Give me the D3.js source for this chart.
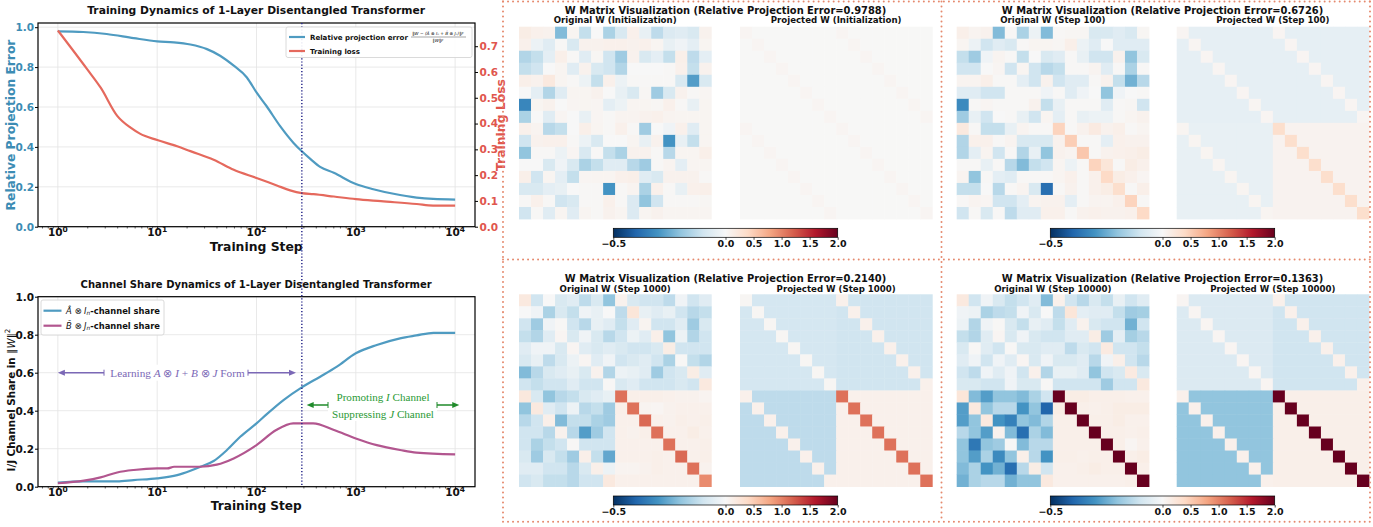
<!DOCTYPE html>
<html><head><meta charset="utf-8">
<script src="https://cdn.jsdelivr.net/npm/d3@7"></script>
<style>body{margin:0;background:#fff} svg{display:block}</style>
</head><body><svg id="c" width="1373" height="527" font-family="DejaVu Sans"></svg>
<script>
// ================= DATA =================
const relErrSteps = [1, 1.8, 3.1, 5.8, 10, 14.7, 21.6, 31.7, 43, 59, 80, 100, 126, 173, 236, 286, 348, 437, 600, 1000, 1500, 2400, 4100, 6000, 10000];
const relErr      = [0.979, 0.976, 0.966, 0.945, 0.929, 0.924, 0.913, 0.89, 0.857, 0.807, 0.748, 0.673, 0.605, 0.504, 0.42, 0.378, 0.34, 0.30, 0.27, 0.214, 0.188, 0.165, 0.146, 0.139, 0.136];
const lossSteps   = [1, 1.97, 2.7, 3.96, 5.4, 6.7, 10, 15.9, 21.6, 37, 59, 100, 160, 218, 286, 375, 600, 1000, 1790, 4100, 6000, 10000];
const lossVals    = [0.761, 0.611, 0.539, 0.43, 0.384, 0.361, 0.336, 0.312, 0.293, 0.26, 0.221, 0.189, 0.16, 0.141, 0.13, 0.126, 0.117, 0.107, 0.099, 0.088, 0.082, 0.082];
const shareASteps = [1, 1.83, 2.69, 3.96, 5.8, 10, 15.9, 21.6, 27.2, 37, 50.4, 68.6, 100, 127, 187, 286, 438, 645, 1000, 1625, 2790, 4070, 6050, 10000];
const shareA      = [0.021, 0.028, 0.028, 0.028, 0.035, 0.044, 0.061, 0.084, 0.105, 0.135, 0.193, 0.263, 0.333, 0.382, 0.456, 0.523, 0.579, 0.632, 0.702, 0.746, 0.781, 0.796, 0.81, 0.81];
const shareBSteps = [1, 1.83, 2.69, 3.96, 5.8, 10, 12.6, 14.8, 27.2, 39.8, 58.9, 100, 158, 234, 372, 603, 1000, 1625, 2790, 4070, 10000];
const shareB      = [0.018, 0.032, 0.049, 0.075, 0.088, 0.096, 0.096, 0.105, 0.105, 0.116, 0.149, 0.219, 0.298, 0.333, 0.333, 0.298, 0.254, 0.219, 0.193, 0.179, 0.17];
const markerStep = 286;
const xTickVals = [1, 10, 100, 1000, 10000];
const yLeftTicks = [0, 0.2, 0.4, 0.6, 0.8, 1.0];
const yRightTicks = [0, 0.1, 0.2, 0.3, 0.4, 0.5, 0.6, 0.7];
const shareTicks = [0, 0.2, 0.4, 0.6, 0.8, 1.0];
const annLearn = {from: 1, to: 250, y: 0.6};
const annPromote = {from: 320, to: 11000, y: 0.43};

const panelErrors = ["0.9788", "0.6726", "0.2140", "0.1363"];
const panelStages = ["Initialization", "Step 100", "Step 1000", "Step 10000"];
const cbTicks = [-0.5, 0, 0.5, 1.0, 1.5, 2.0];

const W_init = [
 [0.15,0.1,0.08,-0.22,0.05,-0.12,0,-0.16,-0.08,0.1,-0.04,-0.13,-0.07,-0.06,-0.08,0.08],
 [0.1,-0.03,-0.06,0.02,-0.08,0.08,0.08,0.1,0.1,0.08,0.1,0.05,-0.04,-0.02,-0.05,0.05],
 [-0.15,-0.12,-0.05,0.12,0.02,-0.06,0.03,-0.1,-0.18,0.08,-0.08,-0.05,-0.12,0.12,-0.13,-0.05],
 [-0.12,-0.1,0,0.05,-0.06,0.08,-0.08,-0.1,-0.15,0,0,0,0.02,0.1,-0.12,0.08],
 [0.12,0.08,0.2,0.05,0.02,-0.03,-0.12,0.1,-0.03,0.02,0.02,0.02,0.02,-0.08,-0.28,-0.08],
 [0,-0.05,-0.15,-0.06,0.05,0.05,0.08,0,-0.04,-0.08,0.03,-0.18,-0.08,0.08,0.02,0.04],
 [-0.33,0.05,0.08,0,0.04,0.05,0.04,-0.05,-0.03,0.05,0.05,0.03,0.1,0.02,-0.04,0.05],
 [-0.16,0,-0.06,0.04,0,-0.04,0.04,0.02,0.06,0.06,0.08,0.1,0.06,0.05,0.05,0.05],
 [0.1,0.06,-0.14,-0.12,0,0.12,0.05,0.02,0.1,0.02,-0.18,0,-0.02,0.1,-0.06,0.05],
 [-0.1,0.08,0.1,0.1,0.02,-0.03,-0.08,0,0,0.05,-0.04,0.08,-0.3,-0.04,-0.12,0.05],
 [-0.2,0.02,0.02,-0.03,0.04,-0.08,0.02,-0.12,-0.16,0.08,0.08,0.02,-0.14,0.05,0.05,0.12],
 [0,0,-0.08,-0.02,-0.08,-0.16,-0.12,-0.06,-0.06,-0.14,-0.18,0.02,0.06,-0.05,0.05,0.05],
 [0.12,-0.1,0.05,-0.05,-0.12,0.04,0.05,0.05,0.1,0.12,-0.06,-0.08,0.08,0.08,0.08,0.02],
 [-0.08,-0.08,-0.05,-0.04,0,0.02,0.02,-0.3,0.02,0.06,-0.16,0.1,0.02,-0.04,0.1,0.12],
 [0.02,0.1,0.02,-0.1,-0.08,0.02,0.02,0.1,0.02,-0.07,-0.2,-0.1,0.02,0.02,0.02,0.03],
 [-0.1,0.02,-0.06,0.05,-0.06,0.05,0.02,0.08,0.05,-0.07,0.05,0.08,0.05,0.05,0.05,0.05]
];
const W_100 = [
 [0.12,0.06,0.08,-0.22,0.02,-0.16,-0.03,-0.22,0.02,0.03,0.03,-0.08,-0.08,-0.06,-0.08,0.03],
 [0.05,-0.03,-0.1,-0.06,-0.08,0.02,0.05,0.05,0.03,0.12,-0.03,-0.06,0,-0.06,-0.06,-0.06],
 [-0.12,-0.18,-0.02,0.06,0.02,-0.12,0,-0.08,-0.06,0.02,-0.04,-0.1,-0.1,0.08,-0.2,-0.08],
 [-0.1,-0.1,0,0.04,-0.1,0.05,-0.1,-0.14,-0.12,0.02,0.02,0.06,-0.06,0.02,-0.16,0.02],
 [0.06,0.06,0.12,0.02,0.02,-0.05,-0.1,0.08,-0.1,-0.06,-0.06,0.02,0.08,-0.12,-0.24,-0.14],
 [-0.06,-0.06,-0.1,-0.1,0.02,0.02,0.02,-0.02,0.02,-0.06,-0.02,0,-0.2,-0.02,0,0.02],
 [-0.32,0.02,0.04,0.02,0.02,0.02,0.08,-0.12,-0.04,0.02,0.02,0.02,-0.06,0.02,0.03,-0.1],
 [-0.18,-0.04,-0.1,0,0.02,-0.04,-0.1,0.05,-0.05,0.02,-0.04,-0.03,-0.03,0.02,0.05,0.08],
 [0.2,0.02,-0.12,-0.12,-0.04,0.06,0.02,0.02,0.45,0.02,0.08,0.18,0.08,0.12,0.02,0.05],
 [-0.15,0.1,0.1,0.02,0.06,-0.08,-0.08,-0.08,0.08,0.5,0.02,0.02,-0.05,0.1,0.08,0.08],
 [-0.15,-0.05,0.06,-0.1,0.02,-0.15,-0.04,-0.2,0.08,0.06,0.55,0.02,0.08,0.1,0.12,0.15],
 [0.02,0.02,-0.04,0.02,-0.14,-0.22,-0.12,-0.1,0.05,-0.03,0.02,0.45,0.25,0.02,0.15,0.1],
 [0.06,-0.2,0.02,-0.05,-0.06,0.02,0.02,0.02,0.05,0.1,0.02,0.1,0.4,0.15,0.1,0.04],
 [-0.12,-0.12,0,-0.14,0.02,0.06,-0.08,-0.38,0.02,0.08,0.02,0.1,0.15,0.35,0.02,0.12],
 [0.02,0.06,0.04,-0.1,-0.1,-0.05,0.06,0.08,0.08,-0.05,0.02,0.06,0.06,0.1,0.45,0.02],
 [-0.1,0.02,-0.08,0.02,-0.13,-0.06,-0.06,0.1,0.1,0.02,0.08,0.1,0.08,0.08,0.1,0.4]
];
const W_1000 = [
 [0.2,-0.1,0,-0.08,-0.06,-0.13,-0.08,-0.2,0.08,-0.08,-0.1,-0.1,-0.13,-0.02,-0.1,-0.06],
 [0,-0.02,-0.16,-0.08,-0.12,-0.02,-0.04,0,-0.13,0.25,-0.04,-0.06,-0.04,-0.1,-0.14,-0.12],
 [-0.1,-0.18,-0.02,0.02,-0.1,-0.14,-0.04,-0.06,-0.12,-0.06,0.06,-0.1,-0.1,-0.06,-0.18,-0.08],
 [-0.12,-0.15,-0.06,0.04,-0.08,-0.02,-0.08,-0.14,-0.1,-0.03,-0.06,0.12,-0.2,-0.03,-0.15,-0.1],
 [-0.06,-0.02,-0.02,-0.08,0.04,-0.06,-0.08,-0.06,-0.08,-0.1,-0.1,-0.08,0.15,-0.1,-0.1,-0.1],
 [-0.08,-0.04,-0.13,-0.08,-0.03,0.04,-0.06,-0.02,-0.1,-0.08,-0.06,-0.1,-0.16,0.02,-0.12,-0.15],
 [-0.22,-0.14,-0.08,-0.06,-0.04,-0.08,0.08,-0.15,-0.03,-0.04,-0.06,-0.18,-0.1,-0.08,0.15,-0.06],
 [-0.1,-0.12,-0.1,-0.1,-0.06,-0.1,-0.1,0.02,-0.08,-0.06,-0.1,-0.1,-0.1,-0.08,-0.1,0.2],
 [0.22,-0.08,-0.2,-0.14,-0.12,-0.08,-0.06,-0.04,1.1,0.12,0.12,0.12,0.1,0.08,0.08,0.06],
 [-0.2,0.2,-0.06,-0.1,-0.03,-0.14,-0.12,-0.18,0.12,1.1,0.06,0.04,0.08,0.1,0.1,0.1],
 [-0.14,-0.1,0.12,-0.22,-0.12,-0.12,-0.16,-0.18,0.1,0.1,1.15,0.1,0.08,0.12,0.1,0.12],
 [-0.1,-0.1,-0.14,0.08,-0.14,-0.28,-0.18,-0.1,0.1,0.08,0.12,1.1,0.1,0.1,0.15,0.1],
 [-0.1,-0.16,-0.12,-0.1,0.02,-0.1,-0.1,-0.1,0.1,0.1,0.1,0.1,1.1,0.1,0.1,0.12],
 [-0.08,-0.18,-0.08,-0.12,-0.18,0.12,-0.12,-0.26,0.1,0.1,0.1,0.12,0.1,1.15,0.1,0.12],
 [-0.06,-0.06,-0.1,-0.1,-0.14,-0.08,0.12,-0.03,0.06,0.06,0.08,0.12,0.1,0.1,1.1,0.08],
 [-0.1,-0.08,-0.12,-0.12,-0.14,-0.1,-0.1,0.2,0.1,0.1,0.1,0.1,0.1,0.1,0.1,0.95]
];
const W_10000 = [
 [0.2,-0.1,-0.02,-0.08,-0.12,-0.1,-0.06,-0.22,0.1,-0.1,-0.14,-0.08,-0.12,-0.04,-0.1,-0.06],
 [-0.02,-0.03,-0.16,-0.13,-0.12,-0.02,-0.08,0,-0.13,0.25,-0.05,-0.06,-0.06,-0.12,-0.18,-0.17],
 [-0.03,-0.15,-0.02,0.02,-0.08,-0.12,-0.04,-0.06,-0.12,-0.06,0.08,-0.08,-0.1,-0.1,-0.24,-0.1],
 [-0.12,-0.15,-0.06,0.04,-0.08,-0.02,-0.08,-0.1,-0.1,-0.06,-0.06,0.15,-0.18,-0.05,-0.17,-0.14],
 [-0.08,0.02,-0.06,-0.1,0.02,-0.08,-0.08,-0.06,-0.06,-0.13,-0.08,-0.1,0.18,-0.1,-0.1,-0.12],
 [-0.06,-0.02,-0.1,-0.02,-0.06,0.04,-0.08,-0.02,-0.08,-0.08,-0.06,-0.14,-0.02,0.12,-0.1,-0.14],
 [-0.1,-0.13,-0.02,-0.06,-0.02,-0.1,0.1,-0.15,-0.04,-0.04,-0.06,-0.2,-0.1,-0.08,0.18,-0.08],
 [-0.08,-0.08,-0.1,-0.1,-0.02,-0.08,-0.08,0.02,-0.1,-0.1,-0.1,-0.1,-0.18,-0.1,-0.1,0.2],
 [0.25,-0.22,-0.28,-0.2,-0.2,-0.22,-0.16,-0.1,2.2,0.15,0.15,0.12,0.12,0.12,0.1,0.1],
 [-0.28,0.2,-0.2,-0.14,-0.14,-0.3,-0.2,-0.4,0.15,2.2,0.12,0.1,0.12,0.15,0.15,0.15],
 [-0.28,-0.2,0.2,-0.3,-0.34,-0.2,-0.22,-0.15,0.12,0.12,2.2,0.12,0.12,0.15,0.1,0.1],
 [-0.14,-0.2,-0.28,0.08,-0.22,-0.38,-0.16,-0.22,0.12,0.12,0.12,2.2,0.12,0.12,0.1,0.12],
 [-0.2,-0.36,-0.2,-0.18,0.02,-0.22,-0.14,-0.14,0.12,0.12,0.12,0.12,2.2,0.12,0.04,0.1],
 [-0.2,-0.28,-0.16,-0.32,-0.2,0.12,-0.14,-0.3,0.12,0.12,0.1,0.12,0.12,2.2,0.12,0.15],
 [-0.22,-0.16,-0.3,-0.24,-0.38,-0.14,0.15,-0.1,0.1,0.1,0.12,0.15,0.12,0.12,2.2,0.12],
 [-0.24,-0.16,-0.14,-0.14,-0.24,-0.2,-0.2,0.2,0.1,0.1,0.1,0.1,0.1,0.1,0.12,2.2]
];
const originalW = [W_init, W_100, W_1000, W_10000];
// projected W = A (x) I_8 + B (x) J_8 : per 8x8 block, off-diagonal value and diagonal value
const projOff  = [ [[0.005,0.005],[0.005,0.005]], [[-0.045,-0.045],[-0.04,0.07]], [[-0.09,-0.1],[-0.13,0.1]], [[-0.07,-0.1],[-0.2,0.12]] ];
const projDiag = [ [[0.04,0.04],[0.04,0.04]],     [[0.04,0.04],[0.05,0.35]],      [[0.03,0.1],[0.1,1.1]],     [[0.04,0.1],[0.1,2.2]] ];

// ================= RENDER =================
const svg = d3.select("#c");
svg.append("rect").attr("width",1373).attr("height",527).attr("fill","#fff");
const BLUE = "#4f9bc1", RED = "#e5695d", MAG = "#b2568f";
const BLUE_T = "#3c8cb4", RED_T = "#e0564d";

function fit(sel, w){ const l = sel.node().getComputedTextLength(); const fs = parseFloat(sel.attr("font-size")); sel.attr("font-size", fs*w/l); return sel; }
function txt(g, x, y, s, size, opts={}){
  const t = g.append("text").attr("x",x).attr("y",y).attr("font-size",size).attr("text-anchor",opts.anchor||"middle")
    .attr("font-weight",opts.weight||"bold").attr("fill",opts.fill||"#111").text(s);
  if (opts.rotate) t.attr("transform",`rotate(${opts.rotate},${x},${y})`);
  if (opts.family) t.attr("font-family", opts.family);
  return t;
}

// ---------- line charts ----------
const X0 = 38, X1 = 475;
function makeX(){ return d3.scaleLog().domain([10**-0.2, 10**4.2]).range([X0, X1]); }

function frameAndGrid(g, x, y, top, bot, yTicks){
  g.append("g").selectAll("line").data(xTickVals).join("line")
    .attr("x1",d=>x(d)).attr("x2",d=>x(d)).attr("y1",top).attr("y2",bot).attr("stroke","#e3e3e3").attr("stroke-width",0.8);
  g.append("g").selectAll("line").data(yTicks).join("line")
    .attr("x1",X0).attr("x2",X1).attr("y1",d=>y(d)).attr("y2",d=>y(d)).attr("stroke","#e3e3e3").attr("stroke-width",0.8);
}
function xAxis(g, x, bot, labelBase){
  const ax = g.append("g").attr("transform",`translate(0,${bot})`)
    .call(d3.axisBottom(x).tickValues(xTickVals).tickSize(3).tickFormat(""));
  ax.select(".domain").remove();
  ax.selectAll(".tick line").attr("stroke","#000").attr("stroke-width",0.9);
  const minors = [];
  for (let e=0;e<5;e++) for (let m=2;m<10;m++){ const v=m*10**e; if (v<10**4.2) minors.push(v);}
  minors.push(0.7,0.8,0.9);
  g.append("g").selectAll("line").data(minors).join("line")
    .attr("x1",d=>x(d)).attr("x2",d=>x(d)).attr("y1",bot).attr("y2",bot+1.8).attr("stroke","#000").attr("stroke-width",0.6);
  const lab = g.append("g").selectAll("text").data(xTickVals).join("text")
    .attr("x",d=>x(d)).attr("y",labelBase).attr("text-anchor","middle").attr("font-weight","bold").attr("font-size",10.5).attr("fill","#111");
  lab.each(function(d){ const t=d3.select(this); t.append("tspan").text("10"); t.append("tspan").attr("dy",-4.5).attr("font-size",7.5).text(Math.round(Math.log10(d))); });
}

// ===== Top chart =====
const gT = svg.append("g");
const xT = makeX();
const TT = 23, TB = 226.7;
const yL = d3.scaleLinear().domain([0,1.021]).range([TB,TT]);
const yR = d3.scaleLinear().domain([0,0.79]).range([TB,TT]);
frameAndGrid(gT, xT, yL, TT, TB, yLeftTicks);
const lineRel = d3.line().x((d,i)=>xT(relErrSteps[i])).y(d=>yL(d)).curve(d3.curveMonotoneX);
const lineLoss = d3.line().x((d,i)=>xT(lossSteps[i])).y(d=>yR(d)).curve(d3.curveMonotoneX);
gT.append("path").attr("d",lineRel(relErr)).attr("fill","none").attr("stroke",BLUE).attr("stroke-width",2.2);
gT.append("path").attr("d",lineLoss(lossVals)).attr("fill","none").attr("stroke",RED).attr("stroke-width",2.2);
gT.append("rect").attr("x",X0).attr("y",TT).attr("width",X1-X0).attr("height",TB-TT).attr("fill","none").attr("stroke","#000").attr("stroke-width",1.2);
xAxis(gT, xT, TB, 236);
{
  const ax = gT.append("g").attr("transform",`translate(${X0},0)`).call(d3.axisLeft(yL).tickValues(yLeftTicks).tickSize(3).tickFormat(d3.format(".1f")));
  ax.select(".domain").remove();
  ax.selectAll(".tick line").attr("stroke","#000");
  ax.selectAll(".tick text").attr("font-size",10.5).attr("font-weight","bold").attr("fill",BLUE_T).attr("font-family","DejaVu Sans").attr("x",-4);
  const ar = gT.append("g").attr("transform",`translate(${X1},0)`).call(d3.axisRight(yR).tickValues(yRightTicks).tickSize(3).tickFormat(d3.format(".1f")));
  ar.select(".domain").remove();
  ar.selectAll(".tick line").attr("stroke","#000");
  ar.selectAll(".tick text").attr("font-size",10.5).attr("font-weight","bold").attr("fill",RED_T).attr("font-family","DejaVu Sans").attr("x",4.5);
}
fit(txt(gT, 256.2, 14.3, "Training Dynamics of 1-Layer Disentangled Transformer", 11), 338);
fit(txt(gT, 256.3, 250.5, "Training Step", 13.5), 93);
fit(txt(gT, 14.5, 125, "Relative Projection Error", 12.5, {rotate:-90, fill:BLUE_T}), 171);
fit(txt(gT, 505, 125, "Training Loss", 12.5, {rotate:-90, fill:RED_T}), 92);

// ===== Bottom chart =====
const gB = svg.append("g");
const xB = makeX();
const BT = 296.7, BB = 486.7;
const yB = d3.scaleLinear().domain([0,1]).range([BB,BT]);
frameAndGrid(gB, xB, yB, BT, BB, shareTicks);
const lineA = d3.line().x((d,i)=>xB(shareASteps[i])).y(d=>yB(d)).curve(d3.curveMonotoneX);
const lineB = d3.line().x((d,i)=>xB(shareBSteps[i])).y(d=>yB(d)).curve(d3.curveMonotoneX);
gB.append("path").attr("d",lineA(shareA)).attr("fill","none").attr("stroke",BLUE).attr("stroke-width",2.2);
gB.append("path").attr("d",lineB(shareB)).attr("fill","none").attr("stroke",MAG).attr("stroke-width",2.2);
gB.append("rect").attr("x",X0).attr("y",BT).attr("width",X1-X0).attr("height",BB-BT).attr("fill","none").attr("stroke","#000").attr("stroke-width",1.2);
xAxis(gB, xB, BB, 496);
{
  const ax = gB.append("g").attr("transform",`translate(${X0},0)`).call(d3.axisLeft(yB).tickValues(shareTicks).tickSize(3).tickFormat(d3.format(".1f")));
  ax.select(".domain").remove();
  ax.selectAll(".tick line").attr("stroke","#000");
  ax.selectAll(".tick text").attr("font-size",10.5).attr("font-weight","bold").attr("fill","#111").attr("font-family","DejaVu Sans").attr("x",-4);
}
fit(txt(gB, 256.2, 288.3, "Channel Share Dynamics of 1-Layer Disentangled Transformer", 11), 352);
fit(txt(gB, 256.3, 509.5, "Training Step", 13.5), 91);
{
  const t = txt(gB, 14.5, 400, "", 12.5, {rotate:-90});
  t.append("tspan").text("I/J Channel Share in ");
  t.append("tspan").attr("font-weight","normal").attr("font-style","italic").text("‖W‖");
  t.append("tspan").attr("font-weight","normal").attr("dy",-5).attr("font-size","70%").text("2");
  fit(t, 143);
}

// annotations
function dblArrow(g, x1, x2, y, col){
  g.append("line").attr("x1",x1+5).attr("x2",x2-5).attr("y1",y).attr("y2",y).attr("stroke",col).attr("stroke-width",1.5);
  g.append("path").attr("d",`M${x1},${y}L${x1+7},${y-3}L${x1+7},${y+3}Z`).attr("fill",col);
  g.append("path").attr("d",`M${x2},${y}L${x2-7},${y-3}L${x2-7},${y+3}Z`).attr("fill",col);
}
const PUR = "#7b68b6", GRN = "#1f8a2a";
{
  const y = yB(annLearn.y);
  dblArrow(gB, xB(annLearn.from), xB(annLearn.to), y, PUR);
  gB.append("rect").attr("x",104).attr("y",y-8).attr("width",144).attr("height",16).attr("fill","#fff");
  gB.append("line").attr("x1",104).attr("x2",104).attr("y1",y-3).attr("y2",y+3).attr("stroke",PUR).attr("stroke-width",1);
  gB.append("line").attr("x1",248).attr("x2",248).attr("y1",y-3).attr("y2",y+3).attr("stroke",PUR).attr("stroke-width",1);
  const t = txt(gB, 177.5, y+3.8, "", 11, {family:"Liberation Serif", weight:"normal", fill:PUR});
  t.append("tspan").text("Learning ");
  t.append("tspan").attr("font-style","italic").text("A");
  t.append("tspan").text(" ⊗ ");
  t.append("tspan").attr("font-style","italic").text("I");
  t.append("tspan").text(" + ");
  t.append("tspan").attr("font-style","italic").text("B");
  t.append("tspan").text(" ⊗ ");
  t.append("tspan").attr("font-style","italic").text("J");
  t.append("tspan").text(" Form");
  fit(t, 135);
}
{
  const y = yB(annPromote.y);
  dblArrow(gB, xB(annPromote.from), xB(annPromote.to), y, GRN);
  gB.append("rect").attr("x",328).attr("y",y-14).attr("width",109).attr("height",30).attr("fill","#fff");
  gB.append("line").attr("x1",328).attr("x2",328).attr("y1",y-3).attr("y2",y+3).attr("stroke",GRN).attr("stroke-width",1);
  gB.append("line").attr("x1",437).attr("x2",437).attr("y1",y-3).attr("y2",y+3).attr("stroke",GRN).attr("stroke-width",1);
  const t1 = txt(gB, 383, y-4, "", 11, {family:"Liberation Serif", weight:"normal", fill:"#2a9a35"});
  t1.append("tspan").text("Promoting "); t1.append("tspan").attr("font-style","italic").text("I"); t1.append("tspan").text(" Channel");
  fit(t1, 93);
  const t2 = txt(gB, 383, y+12.5, "", 11, {family:"Liberation Serif", weight:"normal", fill:"#2a9a35"});
  t2.append("tspan").text("Suppressing "); t2.append("tspan").attr("font-style","italic").text("J"); t2.append("tspan").text(" Channel");
  fit(t2, 102);
}

// vertical marker line across both charts
svg.append("line").attr("x1",xT(markerStep)).attr("x2",xT(markerStep)).attr("y1",TT).attr("y2",BB)
  .attr("stroke","#2b2b8c").attr("stroke-width",1.5).attr("stroke-dasharray","1.2,2");

// legends
{
  const g = svg.append("g");
  g.append("rect").attr("x",286).attr("y",27).attr("width",186).attr("height",30.5).attr("rx",2).attr("fill","#fff").attr("fill-opacity",0.9).attr("stroke","#d0d0d0").attr("stroke-width",0.8);
  g.append("line").attr("x1",289).attr("x2",305).attr("y1",37).attr("y2",37).attr("stroke",BLUE).attr("stroke-width",2.2);
  g.append("line").attr("x1",289).attr("x2",305).attr("y1",51).attr("y2",51).attr("stroke",RED).attr("stroke-width",2.2);
  fit(txt(g, 310, 39.7, "Relative projection error", 7, {anchor:"start"}), 98);
  fit(txt(g, 310, 53.7, "Training loss", 7, {anchor:"start"}), 50);
  const fx = 438;
  txt(g, fx, 35, "‖W − (Â ⊗ Iₙ + B̂ ⊗ Jₙ)‖F", 4.3, {weight:"normal"}).attr("font-style","italic");
  g.append("line").attr("x1",411).attr("x2",466).attr("y1",37).attr("y2",37).attr("stroke","#222").attr("stroke-width",0.4);
  txt(g, fx, 41.8, "‖W‖F", 4.3, {weight:"normal"}).attr("font-style","italic");
}
{
  const g = svg.append("g");
  g.append("rect").attr("x",41).attr("y",300).attr("width",123).attr("height",35).attr("rx",2).attr("fill","#fff").attr("fill-opacity",0.9).attr("stroke","#d0d0d0").attr("stroke-width",0.8);
  g.append("line").attr("x1",43.5).attr("x2",61.5).attr("y1",310.7).attr("y2",310.7).attr("stroke",BLUE).attr("stroke-width",2.2);
  g.append("line").attr("x1",43.5).attr("x2",61.5).attr("y1",325.7).attr("y2",325.7).attr("stroke",MAG).attr("stroke-width",2.2);
  const mk = (y, L, S) => {
    const t = txt(g, 66, y, "", 7.6, {anchor:"start"});
    t.append("tspan").attr("font-weight","normal").attr("font-style","italic").text(L + " ⊗ " + S);
    t.append("tspan").attr("font-weight","normal").attr("font-style","italic").attr("font-size","70%").attr("dy",1.5).text("n");
    t.append("tspan").attr("dy",-1.5).text("-channel share");
    fit(t, 94);
  };
  mk(313.5, "Â", "I");
  mk(328.5, "B̂", "J");
}

// ---------- heatmap panels ----------
// matplotlib-style RdBu_r: linear piecewise through the 11 ColorBrewer colours
const rdbuR = d3.piecewise(d3.interpolateRgb, d3.schemeRdBu[11].slice().reverse());
const tsn = v => v < 0 ? Math.max(0, (v + 0.5)) : Math.min(1, 0.5 + v / 4);
const colorOf = v => rdbuR(tsn(v));
const panels = [
  {ox:519,   px:740,    my:26.7,  cx:613.3,  cy:228.3, ty:14.3,  sy:23.3,  tc:725.5},
  {ox:956.7, px:1176.7, my:26.7,  cx:1050.3, cy:228.3, ty:14.3,  sy:23.3,  tc:1162.5},
  {ox:519,   px:740,    my:294.3, cx:613.3,  cy:496,   ty:282.3, sy:292.3, tc:725.5},
  {ox:956.7, px:1176.7, my:294.3, cx:1050.3, cy:496,   ty:282.3, sy:292.3, tc:1162.5}
];
const MS = 192.3, CBW = 224.4, CBH = 9;
const defs = svg.append("defs");
const grad = defs.append("linearGradient").attr("id","cbg");
d3.range(0, 1.0001, 0.02).forEach(t => grad.append("stop").attr("offset", t).attr("stop-color", rdbuR(t)));

let subFont = null;
panels.forEach((p, k) => {
  const g = svg.append("g");
  const orig = originalW[k];
  const proj = d3.range(16).map(i => d3.range(16).map(j => {
    const bi = i < 8 ? 0 : 1, bj = j < 8 ? 0 : 1;
    return (i % 8 === j % 8) ? projDiag[k][bi][bj] : projOff[k][bi][bj];
  }));
  [[orig, p.ox], [proj, p.px]].forEach(([M, x0]) => {
    const bx = d3.scaleBand().domain(d3.range(16)).range([x0, x0 + MS]);
    const by = d3.scaleBand().domain(d3.range(16)).range([p.my, p.my + MS]);
    const cells = M.flatMap((row, i) => row.map((v, j) => ({i, j, v})));
    g.append("g").selectAll("rect").data(cells).join("rect")
      .attr("x", d => bx(d.j)).attr("y", d => by(d.i))
      .attr("width", bx.bandwidth() + 0.4).attr("height", by.bandwidth() + 0.4)
      .attr("fill", d => colorOf(d.v));
  });
  fit(txt(g, p.tc, p.ty, `W Matrix Visualization (Relative Projection Error=${panelErrors[k]})`, 11), 322);
  const s1 = txt(g, p.ox + MS/2, p.sy, `Original W (${panelStages[k]})`, 9);
  const s2 = txt(g, p.px + MS/2, p.sy, `Projected W (${panelStages[k]})`, 9);
  if (subFont === null) { fit(s1, 123); subFont = s1.attr("font-size"); }
  s1.attr("font-size", subFont); s2.attr("font-size", subFont);
  g.append("rect").attr("x", p.cx).attr("y", p.cy).attr("width", CBW).attr("height", CBH).attr("fill", "url(#cbg)").attr("stroke", "#000").attr("stroke-width", 0.7);
  const cs = d3.scaleLinear().domain([-0.5, 0, 2]).range([p.cx, p.cx + CBW/2, p.cx + CBW]);
  const ax = g.append("g").attr("transform", `translate(0,${p.cy + CBH})`)
    .call(d3.axisBottom(cs).tickValues(cbTicks).tickSize(2.5).tickFormat(d => d < 0 ? "−0.5" : d.toFixed(1)));
  ax.select(".domain").remove();
  ax.selectAll(".tick line").attr("stroke", "#000").attr("stroke-width", 0.7);
  ax.selectAll(".tick text").attr("font-size", 9.5).attr("font-weight", "bold").attr("fill", "#111").attr("font-family", "DejaVu Sans").attr("y", 3).attr("dy", "0.71em");
});

// dotted panel borders
{
  const g = svg.append("g").attr("stroke", "#e5896d").attr("stroke-width", 2).attr("stroke-linecap", "round").attr("stroke-dasharray", "0.01 5").attr("fill", "none");
  const L = 503, R = 1370, T = 1.5, B = 521.7, MX = 941.5, MY = 259.5;
  [[L,T,R,T],[L,B,R,B],[L,T,L,B],[R,T,R,B],[MX,T,MX,B],[L,MY,R,MY]].forEach(([a,b,c,d]) =>
    g.append("line").attr("x1",a).attr("y1",b).attr("x2",c).attr("y2",d));
}
</script></body></html>
